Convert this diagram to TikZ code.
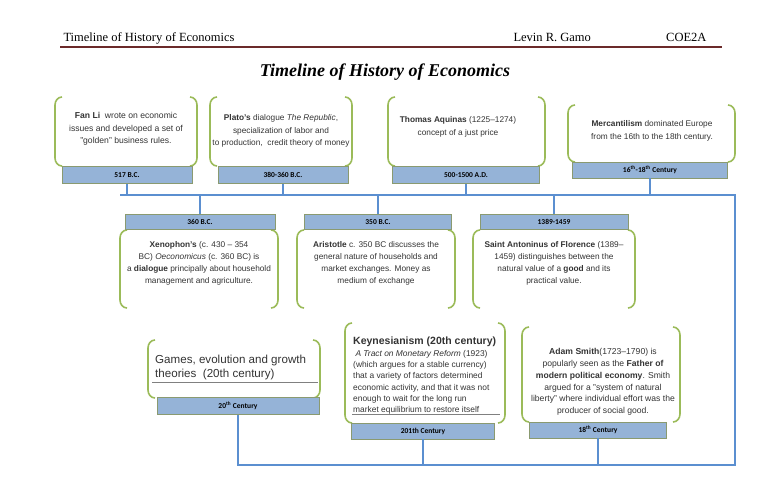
\documentclass[tikz,border=0pt]{standalone}
\usepackage{fontspec}
\setmainfont{Liberation Sans}
\newfontfamily\hdr{Liberation Serif}
\newfontfamily\barf{Carlito}
\definecolor{lineblue}{HTML}{5B8FD0}
\definecolor{barblue}{HTML}{95B3D7}
\definecolor{bargreen}{HTML}{8A9A70}
\definecolor{brgreen}{HTML}{9BBB59}
\definecolor{rulered}{HTML}{6B2A2A}
\definecolor{txt}{HTML}{333333}
\tikzset{
 datebar/.style={draw=bargreen,fill=barblue,line width=0.6pt,inner sep=0pt,font=\barf\bfseries\fontsize{7.5}{8}\selectfont},
 conn/.style={draw=lineblue,line width=2.4pt},
 bracket/.style={draw=brgreen,line width=1.6pt},
 body/.style={align=center,font=\fontsize{8.3}{12}\selectfont,text=txt,inner sep=0pt}
}
\newcommand{\brk}[4]{%
 \draw[bracket] (#1+7,#2) to[out=180,in=90] (#1,#2+8) -- (#1,#4-8) to[out=-90,in=180] (#1+7,#4);
 \draw[bracket] (#3-7,#2) to[out=0,in=90] (#3,#2+8) -- (#3,#4-8) to[out=-90,in=0] (#3-7,#4);}
\begin{document}
\begin{tikzpicture}[x=1pt,y=-1pt]
\useasboundingbox (0,0) rectangle (768,489);
% header
\node[anchor=base west,font=\hdr\fontsize{12.5}{14}\selectfont] (h1) at (60,42) {Timeline of History of Economics};
\node[anchor=base west,font=\hdr\fontsize{12.5}{14}\selectfont] (h2) at (510,42) {Levin R. Gamo};
\node[anchor=base east,font=\hdr\fontsize{12.5}{14}\selectfont] (h3) at (710,42) {COE2A};
\draw[rulered,line width=1.5pt] (60,47) -- (722,47);
\node[font=\hdr\itshape\bfseries\fontsize{18}{20}\selectfont] (title) at (385,72) {Timeline of History of Economics};
\coordinate (tl) at (120,195); \coordinate (tr) at (735,195);
\coordinate (br) at (735,465); \coordinate (bl) at (238,465);
% top row
\brk{55}{97}{197}{166}
\brk{210}{97}{352}{166}
\brk{388}{97}{545}{166}
\brk{568}{105}{735}{162}
\node[body,font=\fontsize{8.6}{12.5}\selectfont] (t1) at (126,129) {\textbf{Fan Li} \ wrote on economic\\issues and developed a set of\\"golden" business rules.};
\node[body,font=\fontsize{8.3}{12.5}\selectfont] (t2) at (281,131) {\textbf{Plato's} dialogue \textit{The Republic},\\specialization of labor and\\to production, \ credit theory of money};
\node[body,font=\fontsize{8.3}{12.5}\selectfont] (t3) at (458,127) {\textbf{Thomas Aquinas} (1225--1274)\\concept of a just price};
\node[body,font=\fontsize{8.3}{12.5}\selectfont] (t4) at (652,131) {\textbf{Mercantilism} dominated Europe\\from the 16th to the 18th century.};
\node[datebar,minimum width=130pt,minimum height=17pt] (b1) at (127,175) {517 B.C.};
\node[datebar,minimum width=130pt,minimum height=17pt] (b2) at (283,175) {380-360 B.C.};
\node[datebar,minimum width=147pt,minimum height=17pt] (b3) at (466,175) {500-1500 A.D.};
\node[datebar,minimum width=155pt,minimum height=16pt] (b4) at (650,170) {16\textsuperscript{th}-18\textsuperscript{th} Century};
% second row
\brk{120}{230}{278}{308}
\brk{297}{230}{455}{308}
\brk{473}{230}{635}{308}
\node[datebar,minimum width=150pt,minimum height=15pt] (c1) at (200,222) {360 B.C.};
\node[datebar,minimum width=147pt,minimum height=15pt] (c2) at (378,222) {350 B.C.};
\node[datebar,minimum width=148pt,minimum height=15pt] (c3) at (554,222) {1389-1459};
\node[body] (s1) at (199,263) {\textbf{Xenophon's} (c. 430 -- 354\\BC) \textit{Oeconomicus} (c. 360 BC) is\\a \textbf{dialogue} principally about household\\management and agriculture.};
\node[body] (s2) at (376,263) {\textbf{Aristotle} c. 350 BC discusses the\\general nature of households and\\market exchanges. Money as\\medium of exchange};
\node[body] (s3) at (554,263) {\textbf{Saint Antoninus of Florence} (1389--\\1459) distinguishes between the\\natural value of a \textbf{good} and its\\practical value.};
% third row
\brk{148}{340}{320}{398}
\brk{345}{323}{505}{423}
\brk{522}{327}{680}{422}
\node[datebar,minimum width=162pt,minimum height=17pt] (d1) at (238,406) {20\textsuperscript{th} Century};
\node[datebar,minimum width=143pt,minimum height=16pt] (d2) at (423,431) {201th Century};
\node[datebar,minimum width=137pt,minimum height=16pt] (d3) at (598,430) {18\textsuperscript{th} Century};
\node[anchor=west,align=left,font=\fontsize{11.6}{14}\selectfont,text=txt,inner sep=0pt] (g) at (155,367) {Games, evolution and growth\\theories \ (20th century)};
\draw[gray,line width=0.5pt] (152,382) -- (318,382);
\node[anchor=north west,align=left,font=\fontsize{8.4}{11.3}\selectfont,text=txt,inner sep=0pt] (k) at (353,337) {{\fontsize{10.5}{11}\selectfont\textbf{Keynesianism (20th century)}}\\ \ \textit{A Tract on Monetary Reform} (1923)\\(which argues for a stable currency)\\that a variety of factors determined\\economic activity, and that it was not\\enough to wait for the long run\\market equilibrium to restore itself};
\draw[gray,line width=0.5pt] (352,414) -- (500,414);
\node[body,font=\fontsize{8.6}{11.7}\selectfont] (a) at (603,382) {\textbf{Adam Smith}(1723--1790) is\\popularly seen as the \textbf{Father of}\\\textbf{modern political economy}. Smith\\argued for a "system of natural\\liberty" where individual effort was the\\producer of social good.};
% connectors
\draw[conn] (tl) -- (tr) -- (br) -- (bl) -- (d1.south);
\foreach \n in {b1,b2,b3,b4} \draw[conn] (\n.south) -- (\n.south |- tl);
\foreach \n in {c1,c2,c3} \draw[conn] (\n.center |- tl) -- (\n.north);
\foreach \n in {d2,d3} \draw[conn] (\n.south) -- (\n.south |- bl);
\end{tikzpicture}
\end{document}
